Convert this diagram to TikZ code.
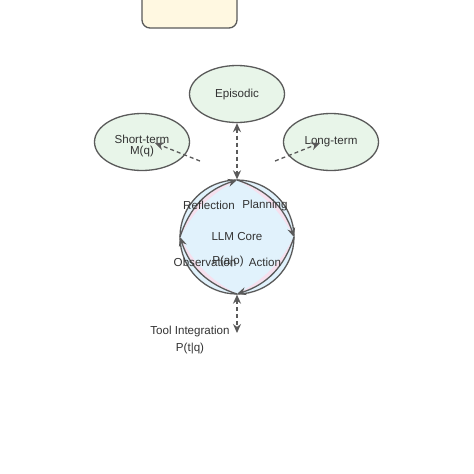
\documentclass[tikz,border=0pt]{standalone}
\usepackage{fontspec}
\setmainfont{Liberation Sans}
\usetikzlibrary{arrows.meta,shapes.geometric}
\definecolor{Edge}{HTML}{5A5A5A}
\definecolor{Ink}{HTML}{333333}
\definecolor{Cream}{HTML}{FFF8E1}
\definecolor{Mint}{HTML}{E8F5E9}
\definecolor{Sky}{HTML}{E1F2FC}
\definecolor{Blush}{HTML}{F6E0EE}
\tikzset{
  txt/.style={font=\fontsize{11.6}{11}\selectfont,text=Ink,align=center,inner sep=0pt},
  memory/.style={ellipse,draw=Edge,fill=Mint,line width=1.3pt,minimum width=95pt,minimum height=57pt,txt},
  core/.style={circle,draw=Edge,fill=Sky,line width=1.3pt,minimum size=114pt,txt},
  link/.style={Edge,line width=1.3pt,dash pattern=on 4pt off 3pt},
  tip/.style={-{Stealth[length=9pt,width=8pt]}},
  both/.style={{Stealth[length=9pt,width=8pt]}-{Stealth[length=9pt,width=8pt]}},
  loopline/.style={Edge,line width=1.3pt,-{Stealth[length=9pt,width=8pt]}}
}
\begin{document}
\begin{tikzpicture}[x=1pt,y=-1pt]
  \useasboundingbox[fill=white] (0,0) rectangle (474,474);
  % top card, cut by the page edge
  \node[draw=Edge,fill=Cream,line width=1.3pt,rounded corners=8pt,minimum width=95pt,minimum height=40pt] (card) at (189.5,8) {};
  % memory stores
  \node[memory] (epi) at (237,94) {Episodic};
  \node[memory] (short) at (142,142) {};
  \node[txt] (short-lab) at (142,146) {Short-term\\M(q)};
  \node[memory] (long) at (331,142) {Long-term};
  % core with its loop
  \node[core] (core) at (237,237) {};
  \coordinate (top) at (237,180);
  \coordinate (right) at (294,237);
  \coordinate (bottom) at (237,294);
  \coordinate (left) at (180,237);
  \fill[Blush] (top) to[bend left=27] (right) to[bend left=27] (bottom) to[bend left=27] (left) to[bend left=27] (top) -- cycle;
  \fill[Sky] (top) to[bend left=16] (right) to[bend left=16] (bottom) to[bend left=16] (left) to[bend left=16] (top) -- cycle;
  \draw[loopline] (top) to[bend left=27] (right);
  \draw[loopline] (right) to[bend left=27] (bottom);
  \draw[loopline] (bottom) to[bend left=27] (left);
  \draw[loopline] (left) to[bend left=27] (top);
  \node[txt] (llm) at (237,237) {LLM Core};
  \foreach \x/\y/\lab/\nm in {209/205/Reflection/refl,265/205/Planning/plan,205/262/Observation/obs,228/262/P(a|o)/pol,265/262/Action/act}{
    \node[txt] (\nm) at (\x,\y) {\lab};
  }
  % memory links
  \coordinate (sh-in) at (155,143);
  \coordinate (sh-out) at (200,161);
  \coordinate (lg-in) at (320,143);
  \coordinate (lg-out) at (275,161);
  \draw[link,tip] (sh-out) -- (sh-in);
  \draw[link,tip] (lg-out) -- (lg-in);
  \draw[link,both] (epi.south) -- (core.north);
  % tools
  \coordinate (tool-end) at (237,333);
  \draw[link,both] (core.south) -- (tool-end);
  \node[txt,font=\fontsize{11.6}{17}\selectfont] (tool) at (190,340) {Tool Integration\\P(t|q)};
\end{tikzpicture}
\end{document}
